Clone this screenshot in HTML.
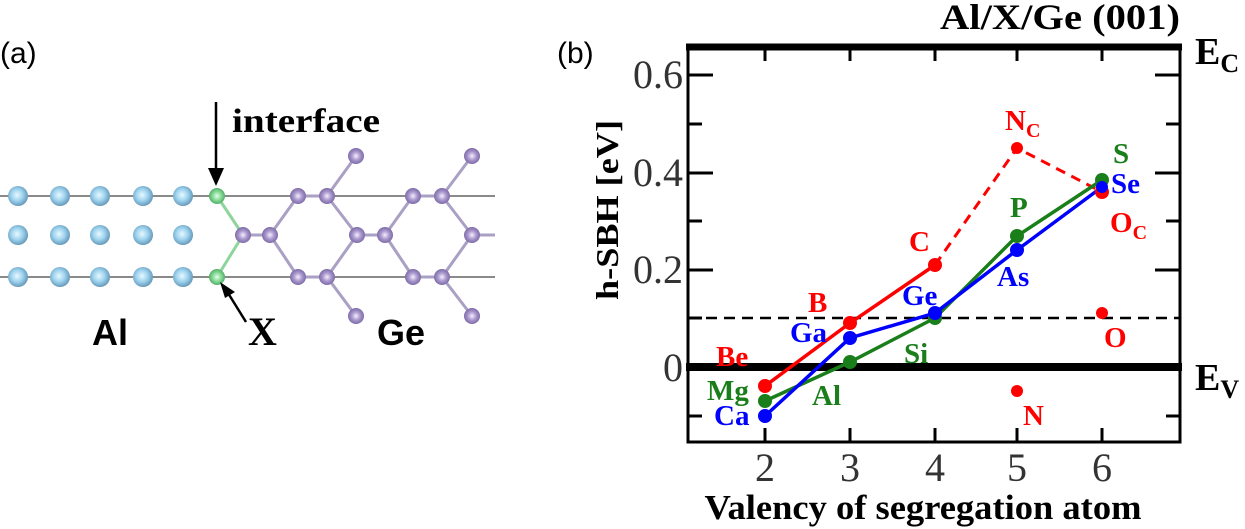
<!DOCTYPE html>
<html><head><meta charset="utf-8"><style>body{margin:0;background:#fff}svg{display:block}</style></head><body>
<svg width="1245" height="529" viewBox="0 0 1245 529" xmlns="http://www.w3.org/2000/svg">
<defs>
<radialGradient id="al" cx="0.45" cy="0.45" r="0.6"><stop offset="0" stop-color="#e8f8ff"/><stop offset="0.5" stop-color="#9cd2ee"/><stop offset="1" stop-color="#5e8fb0"/></radialGradient>
<radialGradient id="ge" cx="0.5" cy="0.5" r="0.6"><stop offset="0" stop-color="#f4efff"/><stop offset="0.45" stop-color="#a896cc"/><stop offset="1" stop-color="#6a5a96"/></radialGradient>
<radialGradient id="xg" cx="0.5" cy="0.5" r="0.6"><stop offset="0" stop-color="#e0ffe6"/><stop offset="0.5" stop-color="#7fd690"/><stop offset="1" stop-color="#3f9a55"/></radialGradient>
</defs>
<g font-family="Liberation Sans, sans-serif" font-size="30"><text x="0" y="63">(a)</text><text x="557" y="63">(b)</text></g>
<!-- panel a -->
<g stroke="#8a8a8a" stroke-width="2"><line x1="0" y1="196" x2="495" y2="196"/><line x1="0" y1="277" x2="495" y2="277"/></g>
<g stroke="#a9a0c4" stroke-width="3">
<line x1="270" y1="235" x2="298" y2="196"/><line x1="270" y1="235" x2="298" y2="277"/>
<line x1="327" y1="196" x2="357" y2="235"/><line x1="327" y1="277" x2="357" y2="235"/>
<line x1="327" y1="196" x2="356" y2="156"/><line x1="327" y1="277" x2="356" y2="316"/>
<line x1="385" y1="235" x2="413" y2="196"/><line x1="385" y1="235" x2="413" y2="277"/>
<line x1="442" y1="196" x2="472" y2="235"/><line x1="442" y1="277" x2="472" y2="235"/>
<line x1="442" y1="196" x2="472" y2="156"/><line x1="442" y1="277" x2="472" y2="316"/>
<line x1="243" y1="235" x2="270" y2="235"/><line x1="357" y1="235" x2="385" y2="235"/><line x1="472" y1="235" x2="495" y2="235"/>
<line x1="298" y1="196" x2="327" y2="196"/><line x1="413" y1="196" x2="442" y2="196"/><line x1="298" y1="277" x2="327" y2="277"/><line x1="413" y1="277" x2="442" y2="277"/>
</g>
<g stroke="#8fd49c" stroke-width="3"><line x1="217" y1="196" x2="243" y2="235"/><line x1="217" y1="277" x2="243" y2="235"/></g>
<g fill="url(#al)">
<circle cx="18" cy="196" r="10"/><circle cx="60" cy="196" r="10"/><circle cx="100" cy="196" r="10"/><circle cx="143" cy="196" r="10"/><circle cx="183" cy="196" r="10"/>
<circle cx="18" cy="235" r="10"/><circle cx="60" cy="235" r="10"/><circle cx="100" cy="235" r="10"/><circle cx="143" cy="235" r="10"/><circle cx="183" cy="235" r="10"/>
<circle cx="18" cy="277" r="10"/><circle cx="60" cy="277" r="10"/><circle cx="100" cy="277" r="10"/><circle cx="143" cy="277" r="10"/><circle cx="183" cy="277" r="10"/>
</g>
<g fill="url(#xg)"><circle cx="217" cy="196" r="8"/><circle cx="217" cy="277" r="8"/></g>
<g fill="url(#ge)">
<circle cx="243" cy="235" r="8"/><circle cx="270" cy="235" r="8"/><circle cx="357" cy="235" r="8"/><circle cx="385" cy="235" r="8"/><circle cx="472" cy="235" r="8"/>
<circle cx="298" cy="196" r="8"/><circle cx="327" cy="196" r="8"/><circle cx="413" cy="196" r="8"/><circle cx="442" cy="196" r="8"/>
<circle cx="298" cy="277" r="8"/><circle cx="327" cy="277" r="8"/><circle cx="413" cy="277" r="8"/><circle cx="442" cy="277" r="8"/>
<circle cx="356" cy="156" r="8"/><circle cx="472" cy="156" r="8"/><circle cx="356" cy="316" r="8"/><circle cx="472" cy="316" r="8"/>
</g>
<line x1="216" y1="102" x2="216" y2="170" stroke="#000" stroke-width="2.5"/><polygon points="208,168 224,168 216,186" fill="#000"/>
<line x1="246" y1="322" x2="228" y2="293" stroke="#000" stroke-width="2.5"/><polygon points="220,282 235,292 225,298" fill="#000"/>
<text x="232" y="132" font-family="Liberation Serif, serif" font-weight="bold" font-size="34" textLength="148" lengthAdjust="spacingAndGlyphs">interface</text>
<g font-weight="bold" font-size="36"><text x="92" y="345" font-family="Liberation Sans, sans-serif">Al</text>
<text x="248" y="345" font-family="Liberation Serif, serif" font-size="40">X</text>
<text x="377" y="345" font-family="Liberation Sans, sans-serif">Ge</text></g>
<!-- panel b -->
<g font-family="Liberation Serif, serif">
<text x="1180" y="29" text-anchor="end" font-weight="bold" font-size="36" textLength="240" lengthAdjust="spacingAndGlyphs">Al/X/Ge (001)</text>
<rect x="688" y="47" width="492" height="395" fill="none" stroke="#000" stroke-width="3"/>
<line x1="686" y1="47" x2="1182" y2="47" stroke="#000" stroke-width="7"/>
<line x1="686" y1="367" x2="1182" y2="367" stroke="#000" stroke-width="8"/>
<line x1="688" y1="318" x2="1180" y2="318" stroke="#000" stroke-width="2.5" stroke-dasharray="11,7"/>
<g stroke="#000" stroke-width="3">
<line x1="765" y1="442" x2="765" y2="428"/><line x1="850" y1="442" x2="850" y2="428"/><line x1="935" y1="442" x2="935" y2="428"/><line x1="1017" y1="442" x2="1017" y2="428"/><line x1="1102" y1="442" x2="1102" y2="428"/>
<line x1="765" y1="47" x2="765" y2="61"/><line x1="850" y1="47" x2="850" y2="61"/><line x1="935" y1="47" x2="935" y2="61"/><line x1="1017" y1="47" x2="1017" y2="61"/><line x1="1102" y1="47" x2="1102" y2="61"/>
<line x1="688" y1="75" x2="713" y2="75"/><line x1="688" y1="173" x2="713" y2="173"/><line x1="688" y1="270" x2="713" y2="270"/>
<line x1="688" y1="124" x2="702" y2="124"/><line x1="688" y1="221" x2="702" y2="221"/><line x1="688" y1="318" x2="702" y2="318"/><line x1="688" y1="416" x2="702" y2="416"/>
<line x1="1180" y1="75" x2="1155" y2="75"/><line x1="1180" y1="173" x2="1155" y2="173"/><line x1="1180" y1="270" x2="1155" y2="270"/>
<line x1="1180" y1="124" x2="1166" y2="124"/><line x1="1180" y1="221" x2="1166" y2="221"/><line x1="1180" y1="416" x2="1166" y2="416"/>
</g>
<g font-size="40" text-anchor="end" fill="#333"><text x="683" y="88">0.6</text><text x="683" y="186">0.4</text><text x="683" y="283">0.2</text><text x="683" y="381">0</text></g>
<g font-size="40" text-anchor="middle" fill="#333"><text x="765" y="481">2</text><text x="850" y="481">3</text><text x="935" y="481">4</text><text x="1017" y="481">5</text><text x="1102" y="481">6</text></g>
<text x="923" y="519" text-anchor="middle" font-weight="bold" font-size="35" textLength="437" lengthAdjust="spacingAndGlyphs">Valency of segregation atom</text>
<text transform="translate(618,210) rotate(-90)" text-anchor="middle" font-weight="bold" font-size="32" textLength="180" lengthAdjust="spacingAndGlyphs">h-SBH [eV]</text>
<text x="1195" y="64" font-weight="bold" font-size="38">E<tspan font-size="26" dy="8">C</tspan></text>
<text x="1195" y="390" font-weight="bold" font-size="38">E<tspan font-size="26" dy="8">V</tspan></text>
<!-- series -->
<polyline points="935,265 1017,148 1102,192" fill="none" stroke="#f00" stroke-width="3" stroke-dasharray="10,7"/>
<polyline points="765,386 850,323 935,265" fill="none" stroke="#f00" stroke-width="3.5"/>
<polyline points="765,401 850,362 935,318 1017,236 1102,180" fill="none" stroke="#1a7f1a" stroke-width="3.5"/>
<polyline points="765,416 850,338 935,313 1017,250 1102,187" fill="none" stroke="#00f" stroke-width="3.5"/>
<g fill="#1a7f1a"><circle cx="765" cy="401" r="7"/><circle cx="850" cy="362" r="7"/><circle cx="935" cy="318" r="7"/><circle cx="1017" cy="236" r="7"/><circle cx="1102" cy="180" r="7"/></g>
<g fill="#f00"><circle cx="765" cy="386" r="7"/><circle cx="850" cy="323" r="7"/><circle cx="935" cy="265" r="7"/><circle cx="1017" cy="148" r="6"/><circle cx="1102" cy="192" r="7"/><circle cx="1102" cy="313" r="6"/><circle cx="1017" cy="391" r="6"/></g>
<g fill="#00f"><circle cx="765" cy="416" r="7"/><circle cx="850" cy="338" r="7"/><circle cx="935" cy="313" r="7"/><circle cx="1017" cy="250" r="7"/><circle cx="1102" cy="187" r="6"/></g>
<g font-weight="bold" font-size="29">
<g fill="#f00"><text x="716" y="366">Be</text><text x="808" y="312">B</text><text x="909" y="251">C</text><text x="1005" y="130">N<tspan font-size="20" dy="7">C</tspan></text><text x="1110" y="232">O<tspan font-size="20" dy="7">C</tspan></text><text x="1104" y="347">O</text><text x="1023" y="425">N</text></g>
<g fill="#1a7f1a"><text x="707" y="400">Mg</text><text x="812" y="405">Al</text><text x="904" y="363">Si</text><text x="1010" y="217">P</text><text x="1113" y="163">S</text></g>
<g fill="#00f"><text x="714" y="425">Ca</text><text x="790" y="342">Ga</text><text x="902" y="305">Ge</text><text x="997" y="286">As</text><text x="1111" y="193">Se</text></g>
</g>
</g>
</svg>
</body></html>
